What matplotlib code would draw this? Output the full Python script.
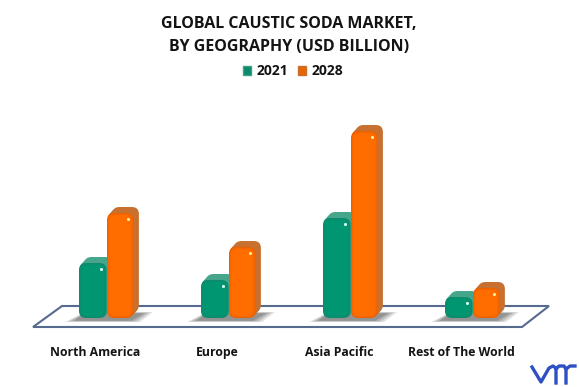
import matplotlib
matplotlib.use("Agg")
import matplotlib.pyplot as plt
from matplotlib.patches import FancyBboxPatch, Polygon, Patch

# datos (sin eje, unidades aproximadas)
regiones = ["North America", "Europe", "Asia Pacific", "Rest of The World"]
anios = ["2021", "2028"]
valores_2021 = [5.5, 3.8, 10.0, 2.1]
valores_2028 = [10.5, 7.1, 18.7, 3.0]

ANCHO, ALTO = 579, 387
PX_X = 122.0   # pixeles por categoria
PX_Y = 10.0    # pixeles por unidad de valor
BASE = 318     # pixel y de la base de las barras

plt.rcParams["font.family"] = ["Open Sans", "DejaVu Sans"]
fig = plt.figure(figsize=(ANCHO / 100, ALTO / 100), dpi=100, facecolor="white")

# fondo en pixeles: piso, sombras y logo
fondo = fig.add_axes([0, 0, 1, 1])
fondo.set_xlim(0, ANCHO)
fondo.set_ylim(ALTO, 0)
fondo.axis("off")
fondo.add_patch(Polygon([(33, 327), (62, 306), (549, 306), (522, 327)], closed=True,
                        facecolor="white", edgecolor="#566a90", lw=1.5))

# barras
ax = fig.add_axes([0, (ALTO - BASE) / ALTO, 1, (BASE - 95) / ALTO])
ax.patch.set_alpha(0)
ax.set_xlim(-95 / PX_X, (ANCHO - 95) / PX_X)
ax.set_ylim(0, (BASE - 95) / PX_Y)
for s in ax.spines.values():
    s.set_visible(False)
ax.set_yticks([])
ax.set_xticks(range(len(regiones)))
ax.set_xticklabels(regiones, fontsize=8.8, fontweight="bold", color="#141414")
ax.tick_params(axis="x", length=0, pad=20)


def caja(x, h, ancho, color, dx=0.0, dy=0.0, inset=0.0, radio=7.0, z=3):
    r = max(radio - inset, 1.0)
    p = FancyBboxPatch(((x + inset + dx) / PX_X, (inset + dy) / PX_Y),
                       (ancho - 2 * inset) / PX_X, h - 2 * inset / PX_Y,
                       boxstyle="round,pad=0,rounding_size=%f" % (r / PX_X),
                       mutation_aspect=PX_X / PX_Y, fc=color, ec="none", zorder=z, clip_on=False)
    ax.add_patch(p)


def barra(x, h, ancho, lado, borde, medio, centro, brillo, z):
    # extrusion hacia atras
    for k in range(1, 7):
        caja(x, h, ancho, lado, dx=k * 0.9, dy=k * 1.0, z=z)
    caja(x, h, ancho, borde, z=z + 1)
    caja(x, h, ancho, medio, inset=1.0, z=z + 1)
    caja(x, h, ancho, centro, inset=2.5, radio=8, z=z + 1)
    # brillo
    ax.plot((x + ancho - 6) / PX_X, h - 5.5 / PX_Y, "o", ms=2.2, mfc=brillo, mec="none",
            zorder=z + 2, clip_on=False)


for i, (v1, v2) in enumerate(zip(valores_2021, valores_2028)):
    cx = 95 + PX_X * i
    # sombra en el piso
    izq, der = cx - 30, cx + 58
    for k, a in zip([0, 2, 4, 6], [0.2, 0.25, 0.3, 0.4]):
        fondo.add_patch(Polygon([(izq + k * 1.5, 322 - k / 5), (izq + 20, 312 + k / 5),
                                 (der - k * 1.5, 312 + k / 5), (der - 13 - k * 1.5, 322 - k / 5)],
                                closed=True, fc="#707070", ec="none", alpha=a))
    barra(PX_X * i - 16, v1, 27.5, "#45a68b", "#0f8a6b", "#06906f", "#019672", "#dffff4", 3)
    barra(PX_X * i + 12, v2, 26.5, "#c8702f", "#ea6200", "#f86800", "#ff6c00", "#fff2a0", 6)

# leyenda y titulo
fig.text(289 / ANCHO, 1 - 35.5 / ALTO, "GLOBAL CAUSTIC SODA MARKET,\nBY GEOGRAPHY (USD BILLION)",
         ha="center", va="center", fontsize=11.5, fontweight="bold", color="#141414", linespacing=1.6)
manejadores = [Patch(fc="#0a8a6b", ec="#3f9f85"), Patch(fc="#e86400", ec="#c8702f")]
fig.legend(manejadores, anios, loc="center", bbox_to_anchor=(293 / ANCHO, 1 - 71 / ALTO), ncols=2,
           frameon=False, handlelength=0.6, handleheight=0.6, handletextpad=0.4, columnspacing=0.7,
           prop={"size": 10, "weight": "bold"}, labelcolor="#141414")

# logo
fondo.plot([532, 541, 549, 553, 556, 556], [367, 382, 368, 366, 368, 383], color="#2f50c4", lw=2.4,
           solid_joinstyle="round")
fondo.plot([556, 559, 564, 566, 566], [369, 366, 366, 369, 383], color="#2f50c4", lw=2.4,
           solid_joinstyle="round")
fondo.plot([566, 570, 575], [369, 366, 366], color="#2f50c4", lw=2.4, solid_joinstyle="round")

fig.savefig("out.png", dpi=100)
